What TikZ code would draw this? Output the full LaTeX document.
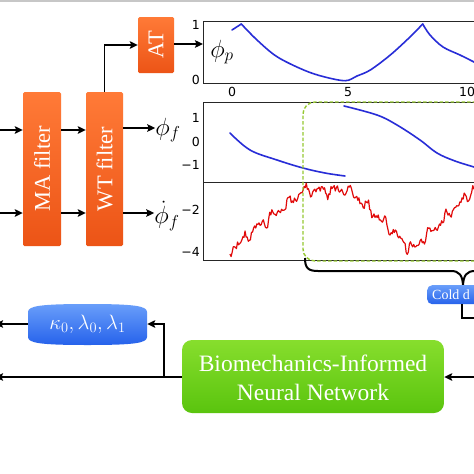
\documentclass[tikz,border=0pt]{standalone}
\usepackage{fontspec}
\setmainfont{Liberation Serif}
\newfontfamily\tickfont{DejaVu Sans}
\usetikzlibrary{arrows.meta}
\definecolor{orgA}{RGB}{255,122,55}
\definecolor{orgB}{RGB}{236,84,22}
\definecolor{grnA}{RGB}{135,222,45}
\definecolor{grnB}{RGB}{90,196,14}
\definecolor{bluA}{RGB}{105,158,250}
\definecolor{bluB}{RGB}{38,98,235}
\definecolor{curveblue}{RGB}{40,45,215}
\definecolor{curvered}{RGB}{225,10,10}
\definecolor{dashgreen}{RGB}{150,200,50}
\begin{document}
\begin{tikzpicture}[x=1pt,y=-1pt,
  arr/.style={line width=1.8pt,-{Stealth[length=8pt,width=7.5pt,inset=1.5pt]}},
  conn/.style={line width=1.8pt},
  obox/.style={top color=orgA,bottom color=orgB,rounded corners=1.5pt,inner sep=0pt},
  olabel/.style={rotate=90,text=white,font=\fontsize{22.5}{22.5}\selectfont,inner sep=0pt},
  tick/.style={font=\tickfont\fontsize{12.5}{12.5}\selectfont,inner sep=0pt},
  mathlab/.style={font=\fontsize{25}{25}\selectfont,inner sep=0pt},
  frame/.style={line width=0.9pt,black!85},
  bcurve/.style={line width=1.6pt,curveblue,line join=round,line cap=round},
  rcurve/.style={line width=1.2pt,curvered,line join=round},
  gbox/.style={top color=grnA,bottom color=grnB,rounded corners=10pt,inner sep=0pt},
  declare function={base(\t)=(\t<305) ? (250-(\t-230)*60/75) : ((\t<350) ? 190 : ((\t<412) ? (190+(\t-350)*60/62) : (250-(\t-412)*60/62)));
    wig(\t)=3*sin((\t-230)*23)+2.5*sin((\t-230)*41+30)+1.5*sin((\t-230)*59+75);}
]
\useasboundingbox (0,0) rectangle (474,474);
\clip (0,0) rectangle (474,474);
\fill[white] (0,0) rectangle (474,474);
\fill[black!22] (0,0) rectangle (474,2);

% orange filter boxes
\node[obox,minimum width=38pt,minimum height=154pt] (ma) at (42,169) {};
\node[olabel] (malab) at (ma) {MA filter};
\node[obox,minimum width=37pt,minimum height=154pt] (wt) at (104.5,169) {};
\node[olabel] (wtlab) at (wt) {WT filter};
\node[obox,minimum width=36pt,minimum height=56pt] (at) at (156,45) {};
\node[olabel] (atlab) at (at) {AT};

% signal labels
\node[mathlab] (phif) at (168,130) {$\phi_f$};
\node[mathlab] (phifd) at (167,216) {$\dot\phi_f$};
\node[mathlab] (phip) at (222,52) {$\phi_p$};

% arrows of the filter chain
\coordinate (in1) at (-5,130);
\coordinate (in2) at (-5,213);
\coordinate (r1) at (0,128);
\coordinate (r2) at (0,213);
\coordinate (p1l) at (203,44);
\draw[arr] (in1) -- (in1 -| ma.west);
\draw[arr] (in2) -- (in2 -| ma.west);
\draw[arr] (in1 -| ma.east) -- (in1 -| wt.west);
\draw[arr] (in2 -| ma.east) -- (in2 -| wt.west);
\draw[arr] (wt.east |- r1) -- (phif.west |- r1);
\draw[arr] (wt.east |- r2) -- (phifd.west |- r2);
\draw[arr] (wt.north) |- (at.west);
\draw[arr] (at.east |- p1l) -- (p1l);

% curves
\draw[bcurve] (232,30) -- (241.3,24);
\draw[bcurve] plot[smooth,tension=0.55] coordinates {(241.3,24) (257,40) (277,56.7) (303.7,70) (323.7,76.7) (345.3,80.7) (357,76) (370.3,70) (390.3,55) (410.3,36.7) (422.7,24)};
\draw[bcurve] plot[smooth,tension=0.55] coordinates {(422.7,24) (430,35) (443,47) (460,55) (474,62) (480,65)};
\draw[bcurve] plot[smooth,tension=0.6] coordinates {(230,133) (250,150) (277,160) (303,168) (325,173) (345,176)};
\draw[bcurve] plot[smooth,tension=0.6] coordinates {(344,106) (377,115) (397,125) (420,140) (437,153) (455,161) (474,167) (480,169)};
\pgfmathsetseed{12}
\draw[rcurve] plot[domain=230:476,samples=230] (\x,{base(\x)+wig(\x)+3*rand});

% plot frames
\draw[frame] (480,21) -- (203,21) -- (203,83) -- (480,83);
\draw[frame] (480,102) -- (203,102) -- (203,260) -- (480,260);
\draw[frame] (203,182) -- (480,182);

% tick labels
\node[tick,anchor=east] (ty1) at (200,25) {1};
\node[tick,anchor=east] (ty0) at (200,80) {0};
\node[tick] (tx0) at (232,92) {0};
\node[tick] (tx5) at (348,92) {5};
\node[tick] (tx10) at (467,92) {10};
\node[tick,anchor=east] (tm1) at (200,118) {1};
\node[tick,anchor=east] (tm0) at (200,142) {0};
\node[tick,anchor=east] (tmm1) at (200,165) {−1};
\node[tick,anchor=east] (tbm2) at (200,210) {−2};
\node[tick,anchor=east] (tbm4) at (200,252) {−4};

% cold-data selection
\draw[dashgreen,line width=1.4pt,dash pattern=on 3.5pt off 2pt,rounded corners=12pt] (480,261) -- (303,261) -- (303,102) -- (480,102);
\draw[line width=2pt] (305,258) .. controls (305,268) and (308,271) .. (318,271) -- (451,271) .. controls (459,271) and (463,275) .. (463,287) .. controls (463,275) and (467,271) .. (475,271) -- (480,271);
\node[top color=bluA,bottom color=bluB,rounded corners=5pt,minimum width=73pt,minimum height=19pt,anchor=north west,inner sep=0pt] (coldbox) at (427,285) {};
\node[anchor=west,text=white,font=\fontsize{14}{14}\selectfont,inner sep=0pt] (cold) at (432,295) {Cold d};
\coordinate (cb) at (462,304);
\coordinate (cr) at (480,318);
\draw[conn] (cb) |- (cr);

% network box
\node[gbox,minimum width=262pt,minimum height=73pt] (bnn) at (313,376.5) {};
\node[text=white,align=center,font=\fontsize{23.5}{29}\selectfont,inner sep=0pt] (bnnlab) at (313,378) {Biomechanics-Informed\\Neural Network};
\coordinate (rin) at (480,377);
\draw[arr] (rin) -- (bnn.east |- rin);

% parameter box
\shade[top color=bluA,bottom color=bluB] (28,312) .. controls (28,306) and (40,304) .. (87.5,304) .. controls (135,304) and (147,306) .. (147,312) -- (147,337) .. controls (147,343) and (135,345) .. (87.5,345) .. controls (40,345) and (28,343) .. (28,337) -- cycle;
\node[minimum width=119pt,minimum height=41pt,inner sep=0pt,text=white,font=\fontsize{22}{22}\selectfont] (kap) at (87.5,324.5) {$\kappa_0,\lambda_0,\lambda_1$};

\coordinate (out1) at (-5,324);
\coordinate (out2) at (-5,377);
\coordinate (jn) at (164,377);
\draw[arr] (kap.west |- out1) -- (out1);
\draw[arr] (bnn.west |- out2) -- (out2);
\draw[arr] (jn) |- (kap.east |- out1);
\end{tikzpicture}
\end{document}
